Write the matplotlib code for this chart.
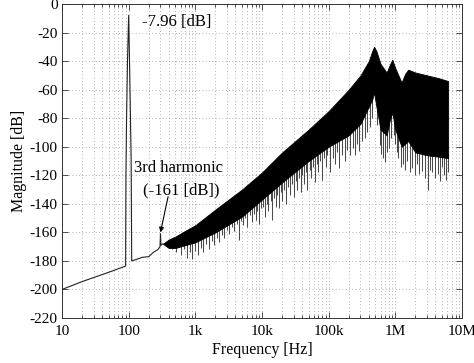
import numpy as np
import matplotlib
matplotlib.use("Agg")
import matplotlib.pyplot as plt
from matplotlib.ticker import FixedLocator, LogLocator, NullFormatter

# ---- data ----
# single-trace low-frequency part (fundamental at 100 Hz, 3rd harmonic at 300 Hz)
line_f = [10, 20, 50, 88, 90, 91, 93, 96, 100, 103, 106, 109, 111, 130, 160, 200, 235, 275, 295, 300, 305, 327]
line_db = [-200, -194.5, -188, -183.8, -183.5, -120, -80, -40, -7.96, -40, -75, -110, -180, -179, -177.5, -177, -174, -172, -170, -161, -169, -168]

# dense noisy band: upper and lower envelopes
band_f = [327, 400, 500, 700, 1e3, 2e3, 5e3, 1e4, 2e4, 5e4, 1e5, 2e5, 3e5, 4e5, 4.5e5, 4.8e5,
          5.2e5, 6e5, 7.4e5, 8.2e5, 9e5, 1.0e6, 1.24e6, 1.4e6, 1.56e6, 2e6, 3e6, 4.5e6, 6.2e6]
band_hi = [-168, -165, -163, -159, -155, -144, -130, -118, -104, -88, -75, -60, -50, -40, -33, -30,
           -33, -42, -48, -43, -39, -45, -55, -49, -46, -48, -50, -52, -54]
band_lo = [-168, -171, -171, -169, -167, -160, -149, -137, -125, -110, -100, -92, -84, -72, -67, -62,
           -72, -88, -92, -82, -76, -88, -100, -98, -96, -104, -106, -107, -108]

# downward spikes below the band (frequency, bottom level)
spike_f = [450, 520, 600, 680, 750, 820, 900, 1000, 1100, 1200, 1300, 1450, 1600, 1750, 1900, 2100,
           2300, 2500, 2700, 3000, 3200, 3500, 3800, 4200, 4500, 4900, 5200, 5600, 6000, 6500, 7000,
           7500, 8000, 8500, 9000, 9500,
           10500, 11000, 12000, 12500, 13500, 14000, 15000, 16000, 17000, 18000, 19000, 20000, 21500,
           23000, 24500, 26000, 28000, 30000, 32000, 34000, 36000, 38000, 40000, 43000, 46000, 48000,
           52000, 55000, 58000, 62000, 66000, 70000, 75000, 80000, 85000, 90000, 95000,
           105000, 115000, 125000, 135000, 145000, 160000, 175000, 190000, 210000, 230000, 250000,
           270000, 290000, 320000, 350000, 380000, 420000, 440000, 540000, 580000, 620000, 660000,
           700000, 750000, 800000, 850000, 950000, 1000000, 1050000, 1100000, 1200000, 1300000,
           1400000, 1500000, 1650000, 1800000, 1950000, 2100000, 2300000, 2500000, 2800000, 3100000,
           3300000, 3600000, 3900000, 4300000, 4700000, 5000000, 5400000, 5800000, 6100000]
spike_db = [-172, -174, -176, -172, -178, -174, -179, -173, -176, -171, -174, -168, -172, -166, -169, -164,
            -167, -162, -164, -158, -161, -156, -159, -154, -165, -152, -155, -150, -156, -148, -153,
            -147, -151, -145, -154, -143,
            -142, -149, -140, -145, -138, -151, -136, -142, -134, -143, -132, -138, -130,
            -140, -128, -134, -126, -135, -124, -130, -122, -132, -120, -126, -118, -130,
            -116, -122, -114, -125, -112, -118, -110, -123, -108, -114, -106,
            -118, -108, -112, -104, -115, -106, -110, -102, -106, -101, -106,
            -98, -103, -96, -94, -90, -86, -80, -85, -99, -105, -108,
            -111, -104, -101, -94, -92, -98, -104, -108, -114, -112,
            -116, -110, -118, -115, -120, -112, -119, -117, -122, -130,
            -116, -118, -122, -119, -124, -114, -120, -123, -118]

x_ticks = [10, 100, 1e3, 1e4, 1e5, 1e6, 1e7]
x_labels = ["10", "100", "1k", "10k", "100k", "1M", "10M"]
y_ticks = list(range(0, -221, -20))
y_labels = ["0" if v == 0 else "-%d" % (-v) for v in y_ticks]

# ---- figure ----
plt.rcParams['font.family'] = ['Liberation Serif', 'DejaVu Serif']
fig = plt.figure(figsize=(4.74, 3.63), dpi=100)
ax = fig.add_axes([62/474, 1-318/363, 400/474, 314/363])

ax.set_xscale('log')
ax.set_xlim(10, 1e7)
ax.set_ylim(-220, 0)

# spikes hang from the lower edge of the band
spike_top = np.interp(np.log10(spike_f), np.log10(band_f), band_lo) + 3
ax.vlines(spike_f, spike_db, spike_top, colors='#4a4a4a', linewidth=0.75, zorder=2)
ax.fill_between(band_f, band_lo, band_hi, color='black', linewidth=0.6, edgecolor='black', zorder=3)
ax.plot(line_f, line_db, color='#222222', linewidth=0.8, zorder=4)

# grid
grid_style = dict(linestyle=(0, (1, 3)), color='#9a9a9a', linewidth=0.6)
ax.grid(True, which='major', axis='both', **grid_style)
ax.grid(True, which='minor', axis='x', **grid_style)
ax.set_axisbelow(True)

ax.xaxis.set_major_locator(FixedLocator(x_ticks))
ax.set_xticklabels(x_labels)
ax.xaxis.set_minor_locator(LogLocator(base=10, subs=np.arange(2, 10), numticks=20))
ax.xaxis.set_minor_formatter(NullFormatter())
ax.set_yticks(y_ticks)
ax.set_yticklabels(y_labels)

ax.tick_params(which='both', direction='in', top=True, right=True, labelsize=11, width=0.6, color='#333333')
ax.tick_params(which='major', length=4)
ax.tick_params(which='minor', length=2)
ax.tick_params(axis='x', pad=5)
ax.tick_params(axis='y', pad=3)
for s in ax.spines.values():
    s.set_linewidth(0.7)
    s.set_color('#333333')

ax.set_xlabel("Frequency [Hz]", fontsize=11.5, labelpad=3)
ax.set_ylabel("Magnitude [dB]", fontsize=11.5, labelpad=2)

ax.text(142/474, 1-22/363, "-7.96 [dB]", transform=fig.transFigure, fontsize=12, va='center', ha='left')
ax.text(179/474, 1-168/363, "3rd harmonic", transform=fig.transFigure, fontsize=12, va='center', ha='center')
ax.text(181/474, 1-190/363, "(-161 [dB])", transform=fig.transFigure, fontsize=12, va='center', ha='center')
ax.annotate("", xy=(300, -160), xytext=(390, -135),
            arrowprops=dict(arrowstyle='-|>', color='black', lw=0.8, mutation_scale=7, shrinkA=0, shrinkB=0))

fig.savefig("out.png", dpi=100)
